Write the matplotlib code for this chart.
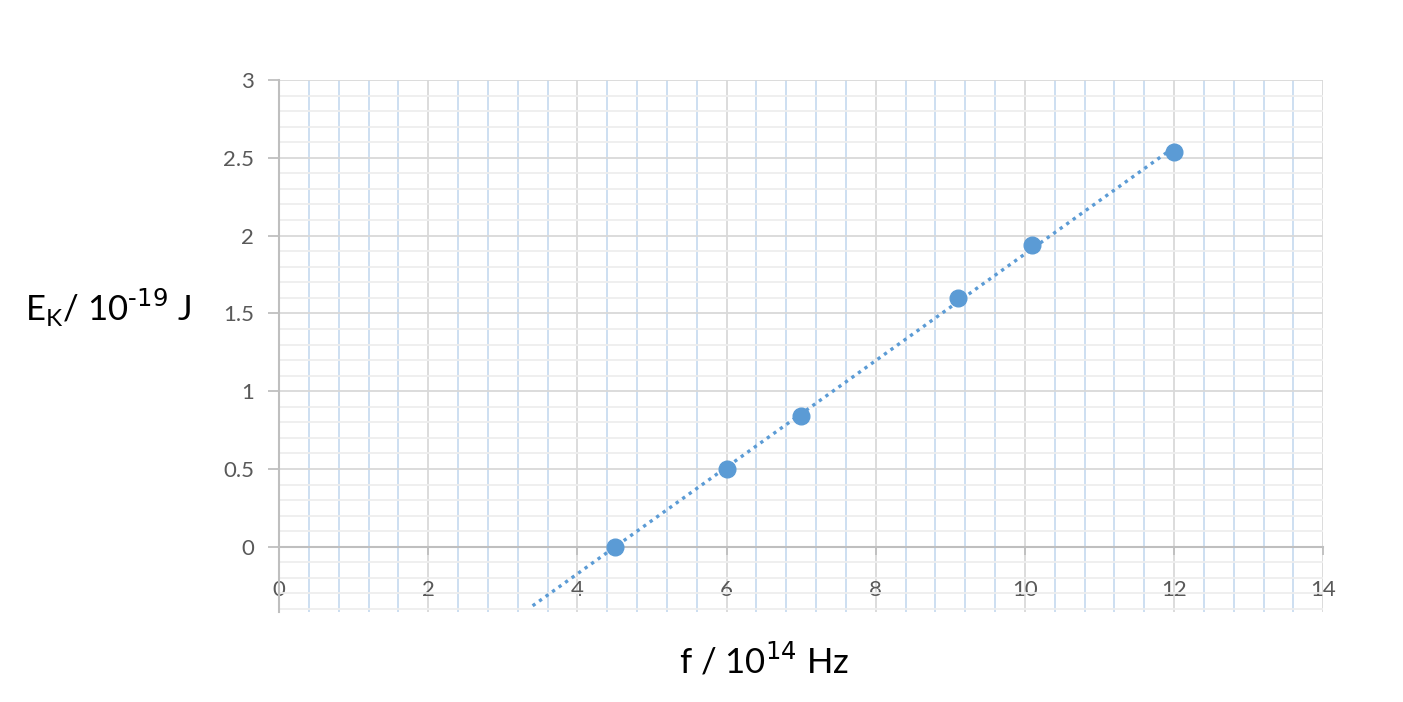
import numpy as np
from matplotlib import pyplot as plt
from matplotlib.ticker import MultipleLocator

# frequency (10^14 Hz) and kinetic energy (10^-19 J)
freq = [4.5, 6.0, 7.0, 9.1, 10.1, 12.0]
energy = [0.0, 0.5, 0.84, 1.6, 1.94, 2.54]
backward_forecast = 1.1

plt.rcParams['font.family'] = ['Lato', 'DejaVu Sans']

fig = plt.figure(figsize=(14.03, 7.02), dpi=100)
ax = fig.add_axes([0.1989, 0.128, 0.7442, 0.758])

# linear trendline, forecast backwards past the first point
slope, intercept = np.polyfit(freq, energy, 1)
x_fit = np.array([min(freq) - backward_forecast, max(freq)])
ax.plot(x_fit, slope * x_fit + intercept, color='#5b9bd5', linewidth=2.4,
        linestyle=(0, (1, 1.4)), zorder=3, clip_on=False)
ax.plot(freq, energy, 'o', color='#5b9bd5', markersize=12, zorder=4)

ax.set_xlim(0, 14)
ax.set_ylim(-0.42, 3)
ax.xaxis.set_major_locator(MultipleLocator(2))
ax.xaxis.set_minor_locator(MultipleLocator(0.4))
ax.yaxis.set_major_locator(MultipleLocator(0.5))
ax.yaxis.set_minor_locator(MultipleLocator(0.1))
ax.set_yticks([0, 0.5, 1, 1.5, 2, 2.5, 3])
ax.set_yticklabels(['0', '0.5', '1', '1.5', '2', '2.5', '3'])

ax.grid(which='major', color='#d9d9d9', linewidth=1.3)
ax.grid(which='minor', axis='x', color='#c9dcf0', linewidth=1.3)
ax.grid(which='minor', axis='y', color='#eeeeee', linewidth=1.3)
ax.set_axisbelow(True)

for side in ['top', 'right']:
    ax.spines[side].set_visible(False)
ax.spines['bottom'].set_position(('data', 0))
ax.spines['bottom'].set_color('#bfbfbf')
ax.spines['bottom'].set_linewidth(1.5)
ax.spines['left'].set_color('#bfbfbf')
ax.spines['left'].set_linewidth(1.5)

ax.tick_params(which='major', axis='both', length=8, width=1.3, color='#bfbfbf',
               labelcolor='#595959', labelsize=16)
ax.tick_params(which='major', axis='x', length=6, pad=18)
ax.tick_params(which='major', axis='y', pad=10)
ax.tick_params(which='minor', length=0)

fig.text(0.077, 0.562, r'E$_{\mathregular{K}}$/ 10$^{\text{-19}}$ J',
         fontsize=25, ha='center', va='center', color='black')
fig.text(0.545, 0.058, r'f / 10$^{\text{14}}$ Hz',
         fontsize=25, ha='center', va='center', color='black')

plt.savefig('out.png', dpi=100)
